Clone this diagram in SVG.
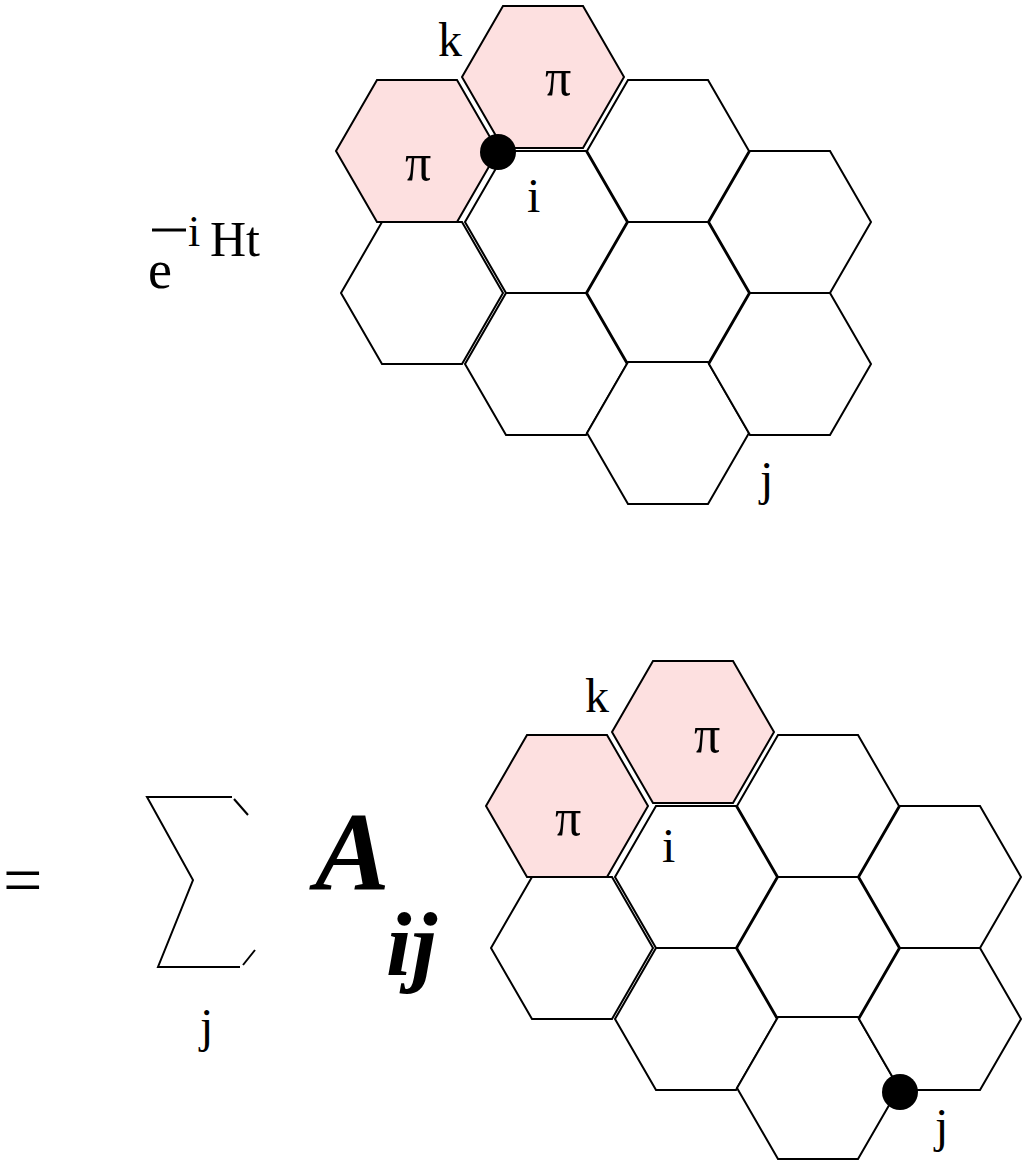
<svg xmlns="http://www.w3.org/2000/svg" width="1025" height="1162" viewBox="0 0 1025 1162">
<defs>
<style>
.h{fill:#fff;stroke:#000;stroke-width:2}
.p{fill:#fde0e0;stroke:#000;stroke-width:2}
text{font-family:"Liberation Serif","Times New Roman",serif;fill:#000}
.l{font-size:48px}
.pi{font-size:52px}
</style>
<polygon id="hx" points="-81,0 -40,-71 40,-71 81,0 40,71 -40,71"/>
</defs>
<rect width="1025" height="1162" fill="#fff"/>
<g id="lattice-top">
<use href="#hx" class="h" x="422" y="293"/>
<use href="#hx" class="h" x="546" y="222"/>
<use href="#hx" class="h" x="546" y="364"/>
<use href="#hx" class="h" x="668" y="151"/>
<use href="#hx" class="h" x="668" y="293"/>
<use href="#hx" class="h" x="668" y="433"/>
<use href="#hx" class="h" x="790" y="222"/>
<use href="#hx" class="h" x="790" y="364"/>
<use href="#hx" class="p" x="417" y="151"/>
<use href="#hx" class="p" x="543" y="77"/>
<circle cx="498" cy="152" r="18" fill="#000"/>
<text x="405" y="180" class="pi">π</text>
<text x="545" y="95" class="pi">π</text>
<text x="438" y="56" class="l">k</text>
<text x="527" y="212" class="l">i</text>
<text x="760" y="495" class="l">j</text>
</g>
<g id="lhs">
<text x="148" y="288" style="font-size:54px">e</text>
<line x1="152" y1="230" x2="186" y2="230" stroke="#000" stroke-width="3"/>
<text x="188" y="246" style="font-size:44px">i</text>
<text x="210" y="256" style="font-size:50px">Ht</text>
</g>
<g id="lattice-bottom">
<use href="#hx" class="h" x="572" y="948"/>
<use href="#hx" class="h" x="696" y="877"/>
<use href="#hx" class="h" x="696" y="1019"/>
<use href="#hx" class="h" x="818" y="806"/>
<use href="#hx" class="h" x="818" y="948"/>
<use href="#hx" class="h" x="818" y="1088"/>
<use href="#hx" class="h" x="940" y="877"/>
<use href="#hx" class="h" x="940" y="1019"/>
<use href="#hx" class="p" x="567" y="806"/>
<use href="#hx" class="p" x="693" y="732"/>
<circle cx="900" cy="1092" r="18" fill="#000"/>
<text x="555" y="835" class="pi">π</text>
<text x="694" y="752" class="pi">π</text>
<text x="585" y="712" class="l">k</text>
<text x="662" y="862" class="l">i</text>
<text x="935" y="1142" class="l">j</text>
</g>
<g id="rhs">
<text x="3" y="904" style="font-size:70px">=</text>
<polyline points="232,797 147,797 193,880 158,967 240,967" fill="none" stroke="#000" stroke-width="2"/>
<line x1="234" y1="799" x2="248" y2="815" stroke="#000" stroke-width="2"/>
<line x1="243" y1="965" x2="255" y2="950" stroke="#000" stroke-width="2"/>
<text x="200" y="1042" class="l">j</text>
<text x="315" y="890" style="font-size:112px;font-style:italic;font-weight:bold">A</text>
<text x="386" y="975" style="font-size:92px;font-style:italic;font-weight:bold">ij</text>
</g>
</svg>
